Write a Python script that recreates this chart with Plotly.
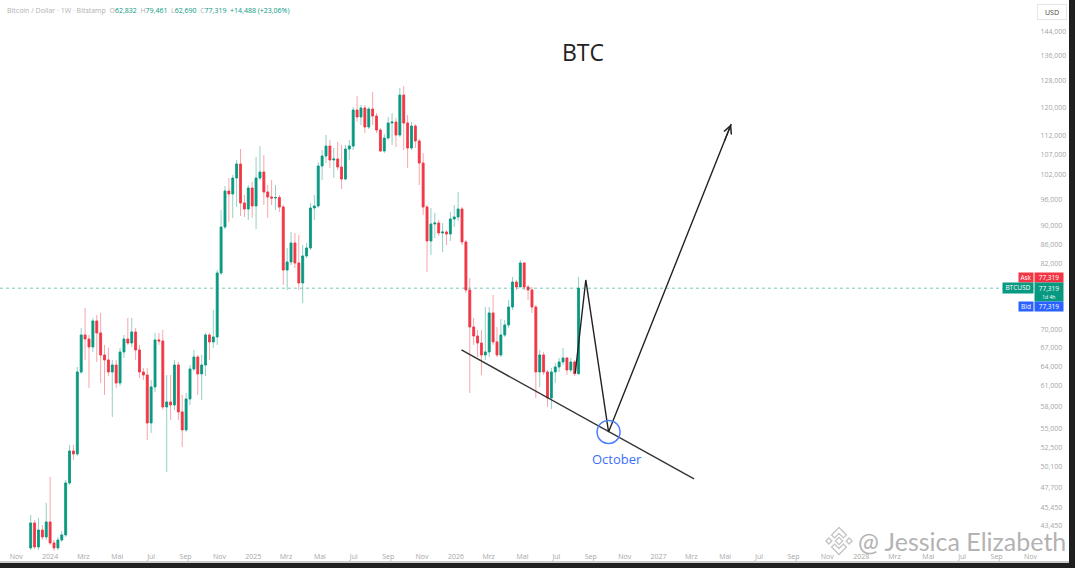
import math
import pandas as pd
import plotly.graph_objects as go

# weekly BTC candles (Bitstamp, 1W)
first_open = 41160
closes = [43730, 41260, 42990, 42270, 43840, 41660, 41160, 41960, 42480, 48190,
          52080, 51710, 63090, 69020, 68350, 67040, 71410, 69360, 65750, 64960,
          63090, 64170, 61430, 66230, 68350, 67690, 69530, 66550, 63090, 62630,
          55750, 60840, 68190, 68020, 57950, 58660, 58230, 64170, 57260, 54810,
          59090, 63550, 65430, 62790, 64170, 69020, 67860, 68690, 80230, 89700,
          97900, 97190, 101030, 104530, 95090, 93710, 98610, 94400, 101030, 102520,
          97660, 96480, 96250, 96360, 94170, 80810, 82400, 86290, 82200, 78300,
          83610, 85250, 93940, 94400, 104020, 106570, 109190, 105550, 105800, 103770,
          100790, 108400, 109190, 119160, 117160, 119740, 114350, 119450, 117440, 113520,
          107880, 111330, 115460, 115740, 112150, 123580, 115460, 108660, 114620, 110530,
          104780, 94170, 86710, 90360, 90580, 88410, 88620, 88190, 91460, 91910,
          93710, 86500, 76990, 70370, 68850, 67690, 65750, 66230, 72810, 67860,
          65750, 69020, 70720, 73870, 78490, 77550, 82200, 77550, 76990, 73870,
          63090, 65750, 63090, 59230, 63090, 63860, 64640, 65270, 63400, 64640,
          62832, 77319]
highs = [44590, 44050, 44270, 43520, 45910, 48900, 41960, 42270, 42890, 48540,
         52850, 52850, 63860, 70200, 73690, 69020, 71930, 72450, 72810, 67370,
         66880, 64960, 64960, 66880, 69020, 71930, 71930, 70200, 67370, 63710,
         63710, 61880, 69360, 69360, 69860, 62630, 62630, 64960, 64640, 59670,
         59960, 64170, 66550, 65750, 65750, 69360, 69360, 73340, 80810, 93480,
         99090, 101030, 101770, 105550, 108400, 96950, 99330, 100060, 106320, 109190,
         106830, 99330, 100540, 99330, 96950, 94620, 85250, 88620, 88410, 87980,
         85870, 86290, 95090, 96950, 105030, 108140, 112150, 110800, 108660, 110260,
         109460, 109460, 110800, 120030, 123280, 120620, 120620, 120030, 124490, 118300,
         114070, 112420, 117160, 118300, 116870, 125700, 126310, 117730, 115740, 115180,
         111070, 107350, 94620, 93940, 92810, 91240, 90580, 89050, 93030, 94620,
         97660, 94170, 86920, 79260, 71930, 69860, 69860, 73870, 73870, 76060,
         70370, 71750, 71580, 75140, 79450, 78880, 82800, 82400, 77930, 77550,
         74230, 66550, 66230, 63400, 63710, 64490, 65270, 66880, 65430, 65270,
         64960, 79461]
lows = [40960, 41060, 40960, 41960, 41960, 41460, 40860, 40960, 41760, 42270,
        47960, 50960, 51450, 62790, 64960, 60690, 66230, 64640, 61430, 59670,
        62480, 56560, 60690, 60980, 65270, 67370, 67040, 64960, 62180, 61880,
        53490, 54410, 60100, 67370, 57530, 49490, 56150, 57530, 56150, 52590,
        54540, 58230, 63250, 59670, 58950, 62480, 64960, 66880, 67370, 79840,
        89270, 90800, 91690, 94170, 92130, 91910, 91240, 91690, 89270, 100540,
        94620, 91690, 94620, 93480, 93030, 77930, 76990, 81800, 81210, 76990,
        74590, 83200, 84830, 91240, 93940, 100540, 104780, 103520, 101030, 103010,
        98370, 100540, 105550, 108140, 115740, 114900, 112690, 113790, 114900, 112690,
        107620, 107350, 110800, 109460, 108930, 111600, 108140, 103520, 108140, 108660,
        99330, 92360, 80420, 83810, 87340, 87770, 84420, 85870, 86710, 89700,
        91020, 85870, 76430, 59960, 67370, 65430, 62630, 64960, 65430, 67370,
        65430, 65430, 68690, 70200, 73340, 76990, 77930, 76990, 75140, 72810,
        59230, 60840, 62630, 57950, 57670, 61430, 63090, 64170, 62630, 63090,
        62480, 62690]

dates = pd.date_range("2023-11-27", periods=len(closes), freq="7D")
opens = [first_open] + closes[:-1]
highs = [max(h, o, c) for h, o, c in zip(highs, opens, closes)]
lows = [min(l, o, c) for l, o, c in zip(lows, opens, closes)]
body_hi = [max(o, c) for o, c in zip(opens, closes)]
body_lo = [min(o, c) for o, c in zip(opens, closes)]

last_price = 77319

price_ticks = [144000, 136000, 128000, 120000, 112000, 107000, 102000, 96000, 90000,
               86000, 82000, 70000, 67000, 64000, 61000, 58000, 55000, 52500, 50100,
               47700, 45450, 43450]
month_ticks = pd.date_range("2023-11-01", "2028-11-01", freq="2MS")
month_labels = ["Nov",
                "2024", "Mrz", "Mai", "Jul", "Sep", "Nov",
                "2025", "Mrz", "Mai", "Jul", "Sep", "Nov",
                "2026", "Mrz", "Mai", "Jul", "Sep", "Nov",
                "2027", "Mrz", "Mai", "Jul", "Sep", "Nov",
                "2028", "Mrz", "Mai", "Jul", "Sep", "Nov"]

# hand drawn idea
trend_x = ["2026-01-11", "2027-03-06"]
trend_y = [66550, 48660]
path_x = ["2026-08-04", "2026-08-23", "2026-10-03", "2027-05-12"]
path_y = [62900, 78880, 54540, 115180]

UP = "#089981"
DOWN = "#F23645"
BLUE = "#2962FF"
W, H = 1075, 568


def fx(p):
    return p / W


def fy(p):
    return 1 - p / H


def label(fig, x, y, text, size, color, xanchor="center", **kw):
    fig.add_annotation(x=fx(x), y=fy(y), xref="paper", yref="paper",
                       xanchor=xanchor, yanchor="middle", text=text, showarrow=False,
                       font=dict(family="Open Sans", size=size, color=color), **kw)


fig = go.Figure()

# wicks (pale)
fig.add_trace(go.Candlestick(
    x=dates, open=opens, high=highs, low=lows, close=closes,
    increasing=dict(line=dict(color="rgba(8,153,129,0.45)", width=1),
                    fillcolor="rgba(8,153,129,0.45)"),
    decreasing=dict(line=dict(color="rgba(242,54,69,0.45)", width=1),
                    fillcolor="rgba(242,54,69,0.45)"),
    hoverinfo="skip"))
# solid bodies
fig.add_trace(go.Candlestick(
    x=dates, open=opens, high=body_hi, low=body_lo, close=closes,
    increasing=dict(line=dict(color=UP, width=0.6), fillcolor=UP),
    decreasing=dict(line=dict(color=DOWN, width=0.6), fillcolor=DOWN),
    hoverinfo="skip"))

fig.add_trace(go.Scatter(x=trend_x, y=trend_y, mode="lines",
                         line=dict(color="#333333", width=1.4), hoverinfo="skip"))
fig.add_trace(go.Scatter(x=path_x, y=path_y, mode="lines",
                         line=dict(color="#222222", width=1.4), hoverinfo="skip"))
fig.add_trace(go.Scatter(x=[path_x[2]], y=[path_y[2]], mode="markers",
                         marker=dict(symbol="circle-open", size=23, color="#4a7dff",
                                     line=dict(color="#4a7dff", width=1.5)),
                         hoverinfo="skip"))

fig.add_hline(y=last_price, line=dict(color="rgba(8,153,129,0.55)", width=1, dash="dot"))

fig.update_layout(
    width=W, height=H,
    margin=dict(l=0, r=0, t=0, b=0, autoexpand=False),
    paper_bgcolor="white", plot_bgcolor="white",
    showlegend=False, boxgap=0.3,
    font=dict(family="Open Sans", color="#a6a6a6", size=7),
    xaxis=dict(domain=[0, 1034 / W], type="date", automargin=False,
               range=["2023-10-02 17:00", "2028-11-07 10:00"],
               tickvals=month_ticks, ticktext=month_labels,
               tickfont=dict(size=7, color="#a6a6a6"),
               showgrid=False, zeroline=False, showline=False,
               rangeslider=dict(visible=False)),
    yaxis=dict(domain=[17 / H, 1], side="right", type="log", automargin=False,
               range=[math.log10(40853), math.log10(155640)],
               tickvals=price_ticks, ticktext=[f"{v:,}" for v in price_ticks],
               tickfont=dict(size=7, color="#a6a6a6"),
               ticks="outside", ticklen=4, tickcolor="rgba(0,0,0,0)",
               showgrid=False, zeroline=False, showline=False),
)

# arrow head at the end of the idea path
fig.add_annotation(x=path_x[3], y=math.log10(path_y[3]), xref="x", yref="y",
                   ax=-7.4, ay=18.6, showarrow=True, text="",
                   arrowhead=5, arrowsize=1.2, arrowwidth=1.3, arrowcolor="#222222")

label(fig, 617, 459, "October", 13, "#3b6ff5")
label(fig, 583, 52, "BTC", 23, "#222222")

head = ("Bitcoin / Dollar · 1W · Bitstamp  O<span style='color:#089981'>62,832</span>"
        "  H<span style='color:#089981'>79,461</span>"
        "  L<span style='color:#089981'>62,690</span>"
        "  C<span style='color:#089981'>77,319</span>"
        "  <span style='color:#089981'>+14,488 (+23,06%)</span>")
label(fig, 5, 10.5, head, 7, "#b0b0b0", xanchor="left")

# price scale badges
badges = [(1026, 277.5, 14, 9, DOWN, "Ask"),
          (1049, 277.5, 28, 9, DOWN, "77,319"),
          (1018, 288, 30, 9.5, UP, "BTCUSD"),
          (1049, 292, 28, 18, UP, "77,319<br><span style='font-size:5px'>1d 4h</span>"),
          (1026, 306.5, 14, 9, BLUE, "Bid"),
          (1049, 306.5, 28, 9, BLUE, "77,319")]
for bx, by, bw, bh, col, txt in badges:
    label(fig, bx, by, txt, 6.5, "white", width=bw, height=bh,
          bgcolor=col, borderpad=0, align="center", valign="middle")

# currency box
label(fig, 1052, 11.5, "USD", 7, "#444444", width=28, height=14,
      bgcolor="white", bordercolor="#e6e6e6", borderwidth=1, borderpad=0)

# watermark logo + name
cx, cy, s = 839, 541, 13.5
logo = [
    [(0, -0.27), (0.27, 0), (0, 0.27), (-0.27, 0)],
    [(-0.75, -0.22), (-0.53, 0), (-0.75, 0.22), (-0.97, 0)],
    [(0.75, -0.22), (0.97, 0), (0.75, 0.22), (0.53, 0)],
    [(-0.55, -0.45), (0, -1), (0.55, -0.45), (0.33, -0.23), (0, -0.56), (-0.33, -0.23)],
    [(-0.55, 0.45), (0, 1), (0.55, 0.45), (0.33, 0.23), (0, 0.56), (-0.33, 0.23)],
]
for poly in logo:
    pts = [(fx(cx + s * a), fy(cy + s * b)) for a, b in poly]
    path = "M " + " L ".join(f"{a:.5f},{b:.5f}" for a, b in pts) + " Z"
    fig.add_shape(type="path", xref="paper", yref="paper", path=path,
                  fillcolor="white", line=dict(color="#c4c4c4", width=1.3))
fig.add_annotation(x=fx(856), y=fy(541), xref="paper", yref="paper",
                   xanchor="left", yanchor="middle",
                   text="@ Jessica Elizabeth", showarrow=False,
                   font=dict(family="Lato", size=25, color="#b3b3b3"))

# dark screenshot frame
fig.add_shape(type="rect", xref="paper", yref="paper", x0=fx(1069), x1=1, y0=0, y1=1,
              fillcolor="#202020", line=dict(width=0))
fig.add_shape(type="rect", xref="paper", yref="paper", x0=0, x1=1, y0=0, y1=fy(563),
              fillcolor="#202020", line=dict(width=0))
fig.add_shape(type="line", xref="paper", yref="paper", x0=0, x1=fx(1069),
              y0=fy(562), y1=fy(562), line=dict(color="#9a9a9a", width=1))

fig.write_html("out.html", config={"displayModeBar": False},
               post_script="document.body.style.margin='0';")
